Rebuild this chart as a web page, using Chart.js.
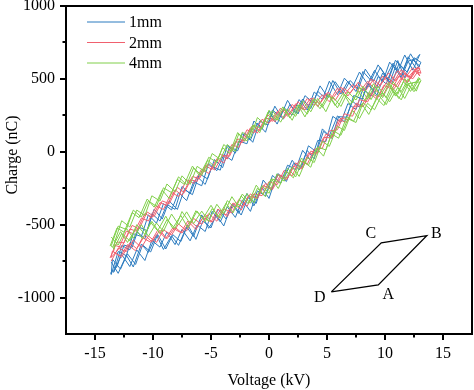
<!DOCTYPE html>
<html><head><meta charset="utf-8">
<script src="https://cdn.jsdelivr.net/npm/chart.js@4.4.1/dist/chart.umd.min.js"></script>
<style>html,body{margin:0;padding:0;background:#fff;}#wrap{width:474px;height:390px;}</style>
</head><body><div id="wrap"><canvas id="c" width="474" height="390"></canvas></div>
<script>
// Voltage (kV): three cycles, each a rising then a falling branch
const voltage = [
 -13.6,-13.0,-12.3,-11.7,-11.0,-10.4,-9.7,-9.1,-8.4,-7.8,-7.1,-6.5,-5.8,-5.2,-4.5,-3.9,-3.2,-2.6,-1.9,-1.3,-0.6,0.0,0.7,1.3,2.0,2.6,3.3,3.9,4.6,5.2,5.9,6.5,7.2,7.8,8.5,9.1,9.8,10.4,11.1,11.7,12.4,13.0,
 12.7,12.0,11.4,10.7,10.1,9.4,8.8,8.1,7.5,6.8,6.2,5.5,4.9,4.2,3.6,2.9,2.3,1.6,1.0,0.3,-0.3,-1.0,-1.6,-2.3,-2.9,-3.6,-4.2,-4.9,-5.5,-6.2,-6.8,-7.5,-8.1,-8.8,-9.4,-10.1,-10.7,-11.4,-12.0,-12.7,-13.3,
 -13.4,-12.7,-12.0,-11.4,-10.7,-10.1,-9.4,-8.8,-8.1,-7.5,-6.8,-6.2,-5.5,-4.9,-4.2,-3.6,-2.9,-2.3,-1.6,-1.0,-0.3,0.3,1.0,1.6,2.3,2.9,3.6,4.2,4.9,5.5,6.2,6.8,7.5,8.1,8.8,9.4,10.1,10.7,11.4,12.0,12.7,
 13.0,12.4,11.7,11.1,10.4,9.8,9.1,8.5,7.8,7.2,6.5,5.9,5.2,4.6,3.9,3.3,2.6,2.0,1.3,0.7,0.0,-0.6,-1.3,-1.9,-2.6,-3.2,-3.9,-4.5,-5.2,-5.8,-6.5,-7.1,-7.8,-8.4,-9.1,-9.7,-10.4,-11.0,-11.7,-12.3,-13.0,-13.6,
 -13.5,-12.8,-12.2,-11.5,-10.9,-10.2,-9.6,-8.9,-8.3,-7.6,-7.0,-6.3,-5.7,-5.0,-4.4,-3.7,-3.1,-2.4,-1.8,-1.1,-0.5,0.2,0.8,1.5,2.1,2.8,3.4,4.1,4.7,5.4,6.0,6.7,7.3,8.0,8.6,9.3,9.9,10.6,11.2,11.9,12.5,13.1,
 12.9,12.2,11.6,10.9,10.3,9.6,9.0,8.3,7.7,7.0,6.4,5.7,5.1,4.4,3.8,3.1,2.5,1.8,1.2,0.5,-0.1,-0.8,-1.4,-2.1,-2.7,-3.4,-4.0,-4.7,-5.3,-6.0,-6.6,-7.3,-7.9,-8.6,-9.2,-9.9,-10.5,-11.2,-11.8,-12.5,-13.1,-13.7
];
// Charge (nC)
const charge1mm = [
 -757,-834,-709,-790,-633,-690,-570,-670,-576,-642,-515,-581,-433,-525,-438,-509,-359,-423,-286,-371,-245,-320,-152,-180,-58,-125,9,-49,157,109,246,205,347,305,468,402,541,473,626,508,630,588,
 571,652,521,608,518,596,488,551,413,484,396,489,363,415,296,362,263,353,241,286,134,197,80,124,-9,43,-126,-100,-224,-170,-288,-238,-395,-361,-475,-424,-597,-548,-672,-643,-806,
 -827,-705,-787,-673,-746,-609,-654,-550,-637,-533,-611,-502,-547,-408,-481,-377,-450,-330,-409,-268,-303,-162,-214,-92,-122,10,-59,78,70,243,203,331,289,433,382,516,465,592,509,622,639,
 668,560,664,549,615,479,558,464,547,444,505,392,484,359,410,286,358,252,302,190,280,154,211,55,74,-59,-20,-130,-80,-233,-206,-335,-279,-399,-356,-490,-432,-581,-562,-713,-684,-842,
 -737,-805,-700,-773,-639,-687,-567,-667,-568,-616,-502,-601,-474,-522,-394,-461,-360,-434,-315,-354,-194,-263,-151,-204,-81,-106,41,-1,141,93,241,237,386,363,468,387,520,468,605,547,645,613,
 581,672,567,628,493,578,484,567,429,489,402,481,371,452,338,385,259,325,223,313,183,210,65,130,7,35,-109,-53,-186,-151,-294,-259,-396,-338,-462,-393,-541,-517,-656,-640,-788,-835
];
const charge2mm = [
 -750,-661,-685,-605,-657,-578,-622,-535,-571,-495,-542,-457,-498,-424,-476,-391,-420,-327,-375,-288,-301,-205,-226,-128,-165,-61,-86,18,24,143,151,261,244,358,342,427,382,476,444,538,501,570,
 575,510,563,474,517,440,500,417,458,383,444,366,399,310,369,290,329,243,300,209,236,128,165,63,68,-50,-16,-121,-96,-203,-192,-298,-261,-368,-349,-453,-423,-545,-530,-657,-641,
 -687,-724,-625,-665,-572,-618,-538,-597,-518,-558,-475,-515,-429,-484,-401,-445,-348,-376,-289,-322,-216,-259,-160,-182,-76,-112,4,-7,121,105,231,220,334,309,404,375,474,423,506,480,573,
 520,576,504,557,468,520,433,483,410,461,391,437,343,391,317,366,277,325,229,276,195,223,129,151,30,50,-77,-48,-149,-118,-217,-192,-307,-279,-396,-372,-475,-455,-562,-544,-671,-725,
 -681,-718,-637,-679,-589,-621,-539,-594,-523,-555,-475,-533,-450,-482,-393,-434,-351,-400,-304,-317,-231,-259,-156,-193,-99,-118,-9,-16,98,96,220,202,312,315,406,361,456,429,518,471,555,539,
 584,499,557,488,541,455,495,417,478,402,439,352,410,331,370,286,344,254,291,205,254,145,183,73,88,-30,-25,-125,-84,-185,-169,-280,-244,-356,-337,-444,-413,-530,-505,-625,-619,-728
];
const charge4mm = [
 -585,-640,-524,-593,-500,-580,-489,-546,-427,-500,-412,-492,-407,-478,-360,-424,-308,-379,-287,-349,-232,-285,-151,-202,-104,-169,-39,-74,72,37,175,146,284,228,333,288,403,343,441,366,474,479,
 416,501,413,479,371,449,358,450,355,410,311,377,275,366,274,350,243,292,203,282,183,235,96,134,3,50,-52,-12,-137,-100,-224,-165,-274,-221,-338,-302,-438,-400,-516,-473,-618,
 -668,-560,-611,-500,-567,-477,-562,-465,-526,-410,-492,-407,-480,-390,-457,-335,-388,-290,-353,-250,-309,-186,-217,-113,-172,-62,-106,34,12,146,113,227,201,337,287,394,323,418,356,466,479,
 504,424,502,394,465,371,449,363,445,336,395,301,387,304,365,258,324,216,300,216,285,157,183,74,123,2,50,-71,-38,-162,-111,-227,-172,-280,-247,-374,-337,-448,-400,-533,-510,-645,
 -656,-548,-622,-528,-598,-485,-542,-442,-525,-437,-521,-404,-460,-367,-447,-353,-419,-303,-356,-229,-292,-185,-252,-134,-179,-43,-93,25,-30,123,93,240,211,329,256,366,317,430,365,468,412,487,
 509,414,481,382,474,388,467,349,414,323,404,317,394,295,358,239,321,231,308,216,270,131,183,73,132,-11,28,-102,-57,-163,-98,-224,-189,-321,-263,-380,-324,-452,-417,-552,-522,-647
];
const seriesLabels = ['1mm','2mm','4mm'];
const seriesColors = ['#2b7bbf','#f0606e','#80cf4a'];

// Axis ticks
const xTicks = [-15,-10,-5,0,5,10,15];
const xMinorTicks = [-12.5,-7.5,-2.5,2.5,7.5,12.5];
const yTicks = [-1000,-500,0,500,1000];
const yMinorTicks = [-750,-250,250,750];

// Inset sketch ABCD (in data units)
const insetVoltage = [5.37, 9.42, 13.6, 9.68, 5.37];
const insetCharge = [-961, -913, -575, -625, -961];
const insetLabels = ['D','A','B','C'];
const insetLabelVoltage = [4.37, 10.28, 14.42, 8.77];
const insetLabelCharge = [-999, -983, -562, -562];

const FONT = '"Liberation Serif","Times New Roman",serif';
Chart.defaults.font.family = FONT;
Chart.defaults.color = '#000';

const toPts = (xs, ys) => xs.map((v, i) => ({x: v, y: ys[i]}));
const chargeSets = [charge1mm, charge2mm, charge4mm];

const datasets = chargeSets.map((q, i) => ({
  label: seriesLabels[i],
  data: toPts(voltage, q),
  showLine: true,
  borderColor: seriesColors[i],
  backgroundColor: seriesColors[i],
  borderWidth: 1,
  pointRadius: 0,
  tension: 0,
  order: 3 - i
}));
datasets.push({
  label: 'inset',
  data: toPts(insetVoltage, insetCharge),
  showLine: true,
  borderColor: '#000',
  borderWidth: 1.3,
  pointRadius: 0,
  tension: 0,
  order: 0
});

const framePlugin = {
  id: 'frame',
  afterDraw(chart) {
    const {ctx, chartArea: {left, right, top, bottom}, scales: {x, y}} = chart;
    ctx.save();
    ctx.strokeStyle = '#000';
    ctx.lineWidth = 2;
    ctx.strokeRect(left, top, right - left, bottom - top);
    ctx.beginPath();
    xTicks.forEach(v => { const p = Math.round(x.getPixelForValue(v)); ctx.moveTo(p, bottom); ctx.lineTo(p, bottom + 6); });
    xMinorTicks.forEach(v => { const p = Math.round(x.getPixelForValue(v)); ctx.moveTo(p, bottom); ctx.lineTo(p, bottom + 3.5); });
    yTicks.forEach(v => { const p = Math.round(y.getPixelForValue(v)); ctx.moveTo(left, p); ctx.lineTo(left - 6, p); });
    yMinorTicks.forEach(v => { const p = Math.round(y.getPixelForValue(v)); ctx.moveTo(left, p); ctx.lineTo(left - 3.5, p); });
    ctx.stroke();

    // y axis title
    ctx.fillStyle = '#000';
    ctx.font = '16px ' + FONT;
    ctx.textBaseline = 'middle';
    ctx.textAlign = 'center';
    ctx.save();
    ctx.translate(13, 155);
    ctx.rotate(-Math.PI / 2);
    ctx.fillText('Charge (nC)', 0, 0);
    ctx.restore();

    // legend
    ctx.textAlign = 'left';
    ctx.lineWidth = 1;
    chart.data.datasets.slice(0, 3).forEach((ds, i) => {
      const yy = top + 16 + i * 20.5;
      ctx.strokeStyle = ds.borderColor;
      ctx.beginPath();
      ctx.moveTo(left + 21, yy);
      ctx.lineTo(left + 59, yy);
      ctx.stroke();
      ctx.fillStyle = '#000';
      ctx.fillText(ds.label, left + 63, yy + 1);
    });

    // inset labels
    ctx.textAlign = 'center';
    insetLabels.forEach((t, i) => {
      ctx.fillText(t, x.getPixelForValue(insetLabelVoltage[i]), y.getPixelForValue(insetLabelCharge[i]));
    });
    ctx.restore();
  }
};

const tickFont = {family: FONT, size: 16};
new Chart(document.getElementById('c'), {
  type: 'scatter',
  data: {datasets},
  options: {
    responsive: false,
    animation: false,
    devicePixelRatio: 1,
    layout: {padding: {top: 6, right: 2, left: 0, bottom: 0}},
    plugins: {legend: {display: false}, tooltip: {enabled: false}},
    scales: {
      x: {
        type: 'linear', min: -17.5, max: 17.5,
        afterBuildTicks: s => { s.ticks = xTicks.map(v => ({value: v})); },
        afterFit: s => { s.height = 56; s.paddingLeft = 0; s.paddingRight = 0; },
        grid: {display: false, drawTicks: false},
        border: {display: false},
        ticks: {padding: 10, font: tickFont, color: '#000', maxRotation: 0, autoSkip: false, callback: v => String(v)},
        title: {display: true, text: 'Voltage (kV)', font: tickFont, color: '#000', padding: {top: 0, bottom: 0}}
      },
      y: {
        type: 'linear', min: -1250, max: 1000,
        afterBuildTicks: s => { s.ticks = yTicks.map(v => ({value: v})); },
        afterFit: s => { s.width = 66; s.paddingTop = 0; s.paddingBottom = 0; },
        grid: {display: false, drawTicks: false},
        border: {display: false},
        ticks: {padding: 11, font: tickFont, color: '#000', autoSkip: false, callback: v => String(v)},
        title: {display: false}
      }
    }
  },
  plugins: [framePlugin]
});
</script>
</body></html>
